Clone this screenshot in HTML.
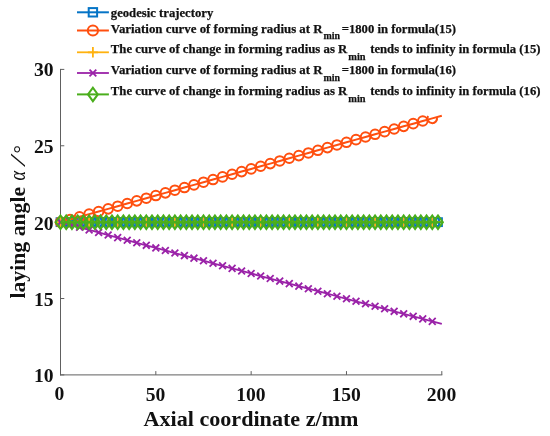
<!DOCTYPE html>
<html><head><meta charset="utf-8"><title>chart</title><style>html,body{margin:0;padding:0;background:#fff}</style></head><body>
<svg width="550" height="436" viewBox="0 0 550 436" style="display:block">
<rect width="550" height="436" fill="#fff"/>
<defs><clipPath id="cp"><rect x="52.50" y="40" width="397.30" height="340"/></clipPath></defs>
<g stroke="#606060" stroke-width="1" fill="none">
<path d="M60.50 68.90V375.40"/>
<path d="M60.00 374.90H442.30"/>
<path d="M60.50 374.90v-3.8"/>
<path d="M155.82 374.90v-3.8"/>
<path d="M251.15 374.90v-3.8"/>
<path d="M346.48 374.90v-3.8"/>
<path d="M441.80 374.90v-3.8"/>
<path d="M60.50 374.90h3.8"/>
<path d="M60.50 298.52h3.8"/>
<path d="M60.50 222.15h3.8"/>
<path d="M60.50 145.77h3.8"/>
<path d="M60.50 69.40h3.8"/>
</g>
<g clip-path="url(#cp)" fill="none" stroke-linejoin="miter">
<g stroke="#0574c6" stroke-width="2.0">
<path d="M60.50 222.15H441.80"/>
<rect x="56.60" y="218.25" width="7.8" height="7.8"/>
<rect x="59.46" y="218.25" width="7.8" height="7.8"/>
<rect x="62.32" y="218.25" width="7.8" height="7.8"/>
<rect x="65.18" y="218.25" width="7.8" height="7.8"/>
<rect x="68.04" y="218.25" width="7.8" height="7.8"/>
<rect x="70.90" y="218.25" width="7.8" height="7.8"/>
<rect x="73.76" y="218.25" width="7.8" height="7.8"/>
<rect x="76.62" y="218.25" width="7.8" height="7.8"/>
<rect x="79.48" y="218.25" width="7.8" height="7.8"/>
<rect x="82.34" y="218.25" width="7.8" height="7.8"/>
<rect x="85.20" y="218.25" width="7.8" height="7.8"/>
<rect x="88.06" y="218.25" width="7.8" height="7.8"/>
<rect x="90.92" y="218.25" width="7.8" height="7.8"/>
<rect x="93.78" y="218.25" width="7.8" height="7.8"/>
<rect x="96.64" y="218.25" width="7.8" height="7.8"/>
<rect x="99.50" y="218.25" width="7.8" height="7.8"/>
<rect x="102.36" y="218.25" width="7.8" height="7.8"/>
<rect x="105.22" y="218.25" width="7.8" height="7.8"/>
<rect x="108.08" y="218.25" width="7.8" height="7.8"/>
<rect x="110.94" y="218.25" width="7.8" height="7.8"/>
<rect x="113.79" y="218.25" width="7.8" height="7.8"/>
<rect x="116.65" y="218.25" width="7.8" height="7.8"/>
<rect x="119.51" y="218.25" width="7.8" height="7.8"/>
<rect x="122.37" y="218.25" width="7.8" height="7.8"/>
<rect x="125.23" y="218.25" width="7.8" height="7.8"/>
<rect x="128.09" y="218.25" width="7.8" height="7.8"/>
<rect x="130.95" y="218.25" width="7.8" height="7.8"/>
<rect x="133.81" y="218.25" width="7.8" height="7.8"/>
<rect x="136.67" y="218.25" width="7.8" height="7.8"/>
<rect x="139.53" y="218.25" width="7.8" height="7.8"/>
<rect x="142.39" y="218.25" width="7.8" height="7.8"/>
<rect x="145.25" y="218.25" width="7.8" height="7.8"/>
<rect x="148.11" y="218.25" width="7.8" height="7.8"/>
<rect x="150.97" y="218.25" width="7.8" height="7.8"/>
<rect x="153.83" y="218.25" width="7.8" height="7.8"/>
<rect x="156.69" y="218.25" width="7.8" height="7.8"/>
<rect x="159.55" y="218.25" width="7.8" height="7.8"/>
<rect x="162.41" y="218.25" width="7.8" height="7.8"/>
<rect x="165.27" y="218.25" width="7.8" height="7.8"/>
<rect x="168.13" y="218.25" width="7.8" height="7.8"/>
<rect x="170.99" y="218.25" width="7.8" height="7.8"/>
<rect x="173.85" y="218.25" width="7.8" height="7.8"/>
<rect x="176.71" y="218.25" width="7.8" height="7.8"/>
<rect x="179.57" y="218.25" width="7.8" height="7.8"/>
<rect x="182.43" y="218.25" width="7.8" height="7.8"/>
<rect x="185.29" y="218.25" width="7.8" height="7.8"/>
<rect x="188.15" y="218.25" width="7.8" height="7.8"/>
<rect x="191.01" y="218.25" width="7.8" height="7.8"/>
<rect x="193.87" y="218.25" width="7.8" height="7.8"/>
<rect x="196.73" y="218.25" width="7.8" height="7.8"/>
<rect x="199.59" y="218.25" width="7.8" height="7.8"/>
<rect x="202.45" y="218.25" width="7.8" height="7.8"/>
<rect x="205.31" y="218.25" width="7.8" height="7.8"/>
<rect x="208.17" y="218.25" width="7.8" height="7.8"/>
<rect x="211.03" y="218.25" width="7.8" height="7.8"/>
<rect x="213.89" y="218.25" width="7.8" height="7.8"/>
<rect x="216.75" y="218.25" width="7.8" height="7.8"/>
<rect x="219.61" y="218.25" width="7.8" height="7.8"/>
<rect x="222.47" y="218.25" width="7.8" height="7.8"/>
<rect x="225.33" y="218.25" width="7.8" height="7.8"/>
<rect x="228.19" y="218.25" width="7.8" height="7.8"/>
<rect x="231.04" y="218.25" width="7.8" height="7.8"/>
<rect x="233.90" y="218.25" width="7.8" height="7.8"/>
<rect x="236.76" y="218.25" width="7.8" height="7.8"/>
<rect x="239.62" y="218.25" width="7.8" height="7.8"/>
<rect x="242.48" y="218.25" width="7.8" height="7.8"/>
<rect x="245.34" y="218.25" width="7.8" height="7.8"/>
<rect x="248.20" y="218.25" width="7.8" height="7.8"/>
<rect x="251.06" y="218.25" width="7.8" height="7.8"/>
<rect x="253.92" y="218.25" width="7.8" height="7.8"/>
<rect x="256.78" y="218.25" width="7.8" height="7.8"/>
<rect x="259.64" y="218.25" width="7.8" height="7.8"/>
<rect x="262.50" y="218.25" width="7.8" height="7.8"/>
<rect x="265.36" y="218.25" width="7.8" height="7.8"/>
<rect x="268.22" y="218.25" width="7.8" height="7.8"/>
<rect x="271.08" y="218.25" width="7.8" height="7.8"/>
<rect x="273.94" y="218.25" width="7.8" height="7.8"/>
<rect x="276.80" y="218.25" width="7.8" height="7.8"/>
<rect x="279.66" y="218.25" width="7.8" height="7.8"/>
<rect x="282.52" y="218.25" width="7.8" height="7.8"/>
<rect x="285.38" y="218.25" width="7.8" height="7.8"/>
<rect x="288.24" y="218.25" width="7.8" height="7.8"/>
<rect x="291.10" y="218.25" width="7.8" height="7.8"/>
<rect x="293.96" y="218.25" width="7.8" height="7.8"/>
<rect x="296.82" y="218.25" width="7.8" height="7.8"/>
<rect x="299.68" y="218.25" width="7.8" height="7.8"/>
<rect x="302.54" y="218.25" width="7.8" height="7.8"/>
<rect x="305.40" y="218.25" width="7.8" height="7.8"/>
<rect x="308.26" y="218.25" width="7.8" height="7.8"/>
<rect x="311.12" y="218.25" width="7.8" height="7.8"/>
<rect x="313.98" y="218.25" width="7.8" height="7.8"/>
<rect x="316.84" y="218.25" width="7.8" height="7.8"/>
<rect x="319.70" y="218.25" width="7.8" height="7.8"/>
<rect x="322.56" y="218.25" width="7.8" height="7.8"/>
<rect x="325.42" y="218.25" width="7.8" height="7.8"/>
<rect x="328.28" y="218.25" width="7.8" height="7.8"/>
<rect x="331.14" y="218.25" width="7.8" height="7.8"/>
<rect x="334.00" y="218.25" width="7.8" height="7.8"/>
<rect x="336.86" y="218.25" width="7.8" height="7.8"/>
<rect x="339.72" y="218.25" width="7.8" height="7.8"/>
<rect x="342.58" y="218.25" width="7.8" height="7.8"/>
<rect x="345.43" y="218.25" width="7.8" height="7.8"/>
<rect x="348.29" y="218.25" width="7.8" height="7.8"/>
<rect x="351.15" y="218.25" width="7.8" height="7.8"/>
<rect x="354.01" y="218.25" width="7.8" height="7.8"/>
<rect x="356.87" y="218.25" width="7.8" height="7.8"/>
<rect x="359.73" y="218.25" width="7.8" height="7.8"/>
<rect x="362.59" y="218.25" width="7.8" height="7.8"/>
<rect x="365.45" y="218.25" width="7.8" height="7.8"/>
<rect x="368.31" y="218.25" width="7.8" height="7.8"/>
<rect x="371.17" y="218.25" width="7.8" height="7.8"/>
<rect x="374.03" y="218.25" width="7.8" height="7.8"/>
<rect x="376.89" y="218.25" width="7.8" height="7.8"/>
<rect x="379.75" y="218.25" width="7.8" height="7.8"/>
<rect x="382.61" y="218.25" width="7.8" height="7.8"/>
<rect x="385.47" y="218.25" width="7.8" height="7.8"/>
<rect x="388.33" y="218.25" width="7.8" height="7.8"/>
<rect x="391.19" y="218.25" width="7.8" height="7.8"/>
<rect x="394.05" y="218.25" width="7.8" height="7.8"/>
<rect x="396.91" y="218.25" width="7.8" height="7.8"/>
<rect x="399.77" y="218.25" width="7.8" height="7.8"/>
<rect x="402.63" y="218.25" width="7.8" height="7.8"/>
<rect x="405.49" y="218.25" width="7.8" height="7.8"/>
<rect x="408.35" y="218.25" width="7.8" height="7.8"/>
<rect x="411.21" y="218.25" width="7.8" height="7.8"/>
<rect x="414.07" y="218.25" width="7.8" height="7.8"/>
<rect x="416.93" y="218.25" width="7.8" height="7.8"/>
<rect x="419.79" y="218.25" width="7.8" height="7.8"/>
<rect x="422.65" y="218.25" width="7.8" height="7.8"/>
<rect x="425.51" y="218.25" width="7.8" height="7.8"/>
<rect x="428.37" y="218.25" width="7.8" height="7.8"/>
<rect x="431.23" y="218.25" width="7.8" height="7.8"/>
<rect x="434.09" y="218.25" width="7.8" height="7.8"/>
</g>
<g stroke="#ff4f0f" stroke-width="2.0">
<polyline points="60.50,222.15 70.03,219.49 79.56,216.83 89.10,214.16 98.63,211.50 108.16,208.84 117.69,206.18 127.23,203.52 136.76,200.86 146.29,198.19 155.82,195.53 165.36,192.87 174.89,190.21 184.42,187.55 193.96,184.89 203.49,182.22 213.02,179.56 222.55,176.90 232.09,174.24 241.62,171.58 251.15,168.92 260.68,166.25 270.22,163.59 279.75,160.93 289.28,158.27 298.81,155.61 308.35,152.95 317.88,150.28 327.41,147.62 336.94,144.96 346.48,142.30 356.01,139.64 365.54,136.98 375.07,134.31 384.61,131.65 394.14,128.99 403.67,126.33 413.20,123.67 422.74,121.01 432.27,118.34 441.80,115.68"/>
<circle cx="60.50" cy="222.15" r="4.8"/>
<circle cx="70.03" cy="219.49" r="4.8"/>
<circle cx="79.56" cy="216.83" r="4.8"/>
<circle cx="89.10" cy="214.16" r="4.8"/>
<circle cx="98.63" cy="211.50" r="4.8"/>
<circle cx="108.16" cy="208.84" r="4.8"/>
<circle cx="117.69" cy="206.18" r="4.8"/>
<circle cx="127.23" cy="203.52" r="4.8"/>
<circle cx="136.76" cy="200.86" r="4.8"/>
<circle cx="146.29" cy="198.19" r="4.8"/>
<circle cx="155.82" cy="195.53" r="4.8"/>
<circle cx="165.36" cy="192.87" r="4.8"/>
<circle cx="174.89" cy="190.21" r="4.8"/>
<circle cx="184.42" cy="187.55" r="4.8"/>
<circle cx="193.96" cy="184.89" r="4.8"/>
<circle cx="203.49" cy="182.22" r="4.8"/>
<circle cx="213.02" cy="179.56" r="4.8"/>
<circle cx="222.55" cy="176.90" r="4.8"/>
<circle cx="232.09" cy="174.24" r="4.8"/>
<circle cx="241.62" cy="171.58" r="4.8"/>
<circle cx="251.15" cy="168.92" r="4.8"/>
<circle cx="260.68" cy="166.25" r="4.8"/>
<circle cx="270.22" cy="163.59" r="4.8"/>
<circle cx="279.75" cy="160.93" r="4.8"/>
<circle cx="289.28" cy="158.27" r="4.8"/>
<circle cx="298.81" cy="155.61" r="4.8"/>
<circle cx="308.35" cy="152.95" r="4.8"/>
<circle cx="317.88" cy="150.28" r="4.8"/>
<circle cx="327.41" cy="147.62" r="4.8"/>
<circle cx="336.94" cy="144.96" r="4.8"/>
<circle cx="346.48" cy="142.30" r="4.8"/>
<circle cx="356.01" cy="139.64" r="4.8"/>
<circle cx="365.54" cy="136.98" r="4.8"/>
<circle cx="375.07" cy="134.31" r="4.8"/>
<circle cx="384.61" cy="131.65" r="4.8"/>
<circle cx="394.14" cy="128.99" r="4.8"/>
<circle cx="403.67" cy="126.33" r="4.8"/>
<circle cx="413.20" cy="123.67" r="4.8"/>
<circle cx="422.74" cy="121.01" r="4.8"/>
<path d="M428.11 115.94A4.8 4.8 0 1 0 436.90 117.10"/>
</g>
<g stroke="#ffb20f" stroke-width="1.8">
<path d="M60.50 222.15H441.80"/>
<path d="M55.50 222.15h10M60.50 217.15v10"/>
<path d="M65.03 222.15h10M70.03 217.15v10"/>
<path d="M74.56 222.15h10M79.56 217.15v10"/>
<path d="M84.10 222.15h10M89.10 217.15v10"/>
<path d="M93.63 222.15h10M98.63 217.15v10"/>
<path d="M103.16 222.15h10M108.16 217.15v10"/>
<path d="M112.69 222.15h10M117.69 217.15v10"/>
<path d="M122.23 222.15h10M127.23 217.15v10"/>
<path d="M131.76 222.15h10M136.76 217.15v10"/>
<path d="M141.29 222.15h10M146.29 217.15v10"/>
<path d="M150.82 222.15h10M155.82 217.15v10"/>
<path d="M160.36 222.15h10M165.36 217.15v10"/>
<path d="M169.89 222.15h10M174.89 217.15v10"/>
<path d="M179.42 222.15h10M184.42 217.15v10"/>
<path d="M188.96 222.15h10M193.96 217.15v10"/>
<path d="M198.49 222.15h10M203.49 217.15v10"/>
<path d="M208.02 222.15h10M213.02 217.15v10"/>
<path d="M217.55 222.15h10M222.55 217.15v10"/>
<path d="M227.09 222.15h10M232.09 217.15v10"/>
<path d="M236.62 222.15h10M241.62 217.15v10"/>
<path d="M246.15 222.15h10M251.15 217.15v10"/>
<path d="M255.68 222.15h10M260.68 217.15v10"/>
<path d="M265.22 222.15h10M270.22 217.15v10"/>
<path d="M274.75 222.15h10M279.75 217.15v10"/>
<path d="M284.28 222.15h10M289.28 217.15v10"/>
<path d="M293.81 222.15h10M298.81 217.15v10"/>
<path d="M303.35 222.15h10M308.35 217.15v10"/>
<path d="M312.88 222.15h10M317.88 217.15v10"/>
<path d="M322.41 222.15h10M327.41 217.15v10"/>
<path d="M331.94 222.15h10M336.94 217.15v10"/>
<path d="M341.48 222.15h10M346.48 217.15v10"/>
<path d="M351.01 222.15h10M356.01 217.15v10"/>
<path d="M360.54 222.15h10M365.54 217.15v10"/>
<path d="M370.07 222.15h10M375.07 217.15v10"/>
<path d="M379.61 222.15h10M384.61 217.15v10"/>
<path d="M389.14 222.15h10M394.14 217.15v10"/>
<path d="M398.67 222.15h10M403.67 217.15v10"/>
<path d="M408.20 222.15h10M413.20 217.15v10"/>
<path d="M417.74 222.15h10M422.74 217.15v10"/>
<path d="M427.27 222.15h10M432.27 217.15v10"/>
</g>
<g stroke="#9a22a8" stroke-width="1.8">
<polyline points="60.50,222.15 70.03,224.73 79.56,227.31 89.10,229.89 98.63,232.46 108.16,235.04 117.69,237.62 127.23,240.19 136.76,242.77 146.29,245.34 155.82,247.91 165.36,250.47 174.89,253.04 184.42,255.60 193.96,258.16 203.49,260.72 213.02,263.28 222.55,265.83 232.09,268.38 241.62,270.93 251.15,273.47 260.68,276.02 270.22,278.55 279.75,281.09 289.28,283.62 298.81,286.16 308.35,288.68 317.88,291.21 327.41,293.73 336.94,296.25 346.48,298.77 356.01,301.29 365.54,303.80 375.07,306.32 384.61,308.83 394.14,311.34 403.67,313.85 413.20,316.36 422.74,318.87 432.27,321.37 441.80,323.88"/>
<path d="M57.10 218.75l6.8 6.8M57.10 225.55l6.8 -6.8"/>
<path d="M66.63 221.33l6.8 6.8M66.63 228.13l6.8 -6.8"/>
<path d="M76.16 223.91l6.8 6.8M76.16 230.71l6.8 -6.8"/>
<path d="M85.70 226.49l6.8 6.8M85.70 233.29l6.8 -6.8"/>
<path d="M95.23 229.06l6.8 6.8M95.23 235.86l6.8 -6.8"/>
<path d="M104.76 231.64l6.8 6.8M104.76 238.44l6.8 -6.8"/>
<path d="M114.29 234.22l6.8 6.8M114.29 241.02l6.8 -6.8"/>
<path d="M123.83 236.79l6.8 6.8M123.83 243.59l6.8 -6.8"/>
<path d="M133.36 239.37l6.8 6.8M133.36 246.17l6.8 -6.8"/>
<path d="M142.89 241.94l6.8 6.8M142.89 248.74l6.8 -6.8"/>
<path d="M152.42 244.51l6.8 6.8M152.42 251.31l6.8 -6.8"/>
<path d="M161.96 247.07l6.8 6.8M161.96 253.87l6.8 -6.8"/>
<path d="M171.49 249.64l6.8 6.8M171.49 256.44l6.8 -6.8"/>
<path d="M181.02 252.20l6.8 6.8M181.02 259.00l6.8 -6.8"/>
<path d="M190.56 254.76l6.8 6.8M190.56 261.56l6.8 -6.8"/>
<path d="M200.09 257.32l6.8 6.8M200.09 264.12l6.8 -6.8"/>
<path d="M209.62 259.88l6.8 6.8M209.62 266.68l6.8 -6.8"/>
<path d="M219.15 262.43l6.8 6.8M219.15 269.23l6.8 -6.8"/>
<path d="M228.69 264.98l6.8 6.8M228.69 271.78l6.8 -6.8"/>
<path d="M238.22 267.53l6.8 6.8M238.22 274.33l6.8 -6.8"/>
<path d="M247.75 270.07l6.8 6.8M247.75 276.87l6.8 -6.8"/>
<path d="M257.28 272.62l6.8 6.8M257.28 279.42l6.8 -6.8"/>
<path d="M266.82 275.15l6.8 6.8M266.82 281.95l6.8 -6.8"/>
<path d="M276.35 277.69l6.8 6.8M276.35 284.49l6.8 -6.8"/>
<path d="M285.88 280.22l6.8 6.8M285.88 287.02l6.8 -6.8"/>
<path d="M295.41 282.76l6.8 6.8M295.41 289.56l6.8 -6.8"/>
<path d="M304.95 285.28l6.8 6.8M304.95 292.08l6.8 -6.8"/>
<path d="M314.48 287.81l6.8 6.8M314.48 294.61l6.8 -6.8"/>
<path d="M324.01 290.33l6.8 6.8M324.01 297.13l6.8 -6.8"/>
<path d="M333.54 292.85l6.8 6.8M333.54 299.65l6.8 -6.8"/>
<path d="M343.08 295.37l6.8 6.8M343.08 302.17l6.8 -6.8"/>
<path d="M352.61 297.89l6.8 6.8M352.61 304.69l6.8 -6.8"/>
<path d="M362.14 300.40l6.8 6.8M362.14 307.20l6.8 -6.8"/>
<path d="M371.67 302.92l6.8 6.8M371.67 309.72l6.8 -6.8"/>
<path d="M381.21 305.43l6.8 6.8M381.21 312.23l6.8 -6.8"/>
<path d="M390.74 307.94l6.8 6.8M390.74 314.74l6.8 -6.8"/>
<path d="M400.27 310.45l6.8 6.8M400.27 317.25l6.8 -6.8"/>
<path d="M409.80 312.96l6.8 6.8M409.80 319.76l6.8 -6.8"/>
<path d="M419.34 315.47l6.8 6.8M419.34 322.27l6.8 -6.8"/>
<path d="M428.87 317.97l6.8 6.8M428.87 324.77l6.8 -6.8"/>
</g>
<g stroke="#4aae1c" stroke-width="2.0">
<path d="M60.50 222.15H441.80"/>
<path d="M55.60 222.15L60.50 215.35L65.40 222.15L60.50 228.95Z"/>
<path d="M61.32 222.15L66.22 215.35L71.12 222.15L66.22 228.95Z"/>
<path d="M67.04 222.15L71.94 215.35L76.84 222.15L71.94 228.95Z"/>
<path d="M72.76 222.15L77.66 215.35L82.56 222.15L77.66 228.95Z"/>
<path d="M78.48 222.15L83.38 215.35L88.28 222.15L83.38 228.95Z"/>
<path d="M84.20 222.15L89.10 215.35L94.00 222.15L89.10 228.95Z"/>
<path d="M89.92 222.15L94.82 215.35L99.72 222.15L94.82 228.95Z"/>
<path d="M95.64 222.15L100.54 215.35L105.44 222.15L100.54 228.95Z"/>
<path d="M101.36 222.15L106.26 215.35L111.16 222.15L106.26 228.95Z"/>
<path d="M107.08 222.15L111.98 215.35L116.88 222.15L111.98 228.95Z"/>
<path d="M112.79 222.15L117.69 215.35L122.59 222.15L117.69 228.95Z"/>
<path d="M118.51 222.15L123.41 215.35L128.31 222.15L123.41 228.95Z"/>
<path d="M124.23 222.15L129.13 215.35L134.03 222.15L129.13 228.95Z"/>
<path d="M129.95 222.15L134.85 215.35L139.75 222.15L134.85 228.95Z"/>
<path d="M135.67 222.15L140.57 215.35L145.47 222.15L140.57 228.95Z"/>
<path d="M141.39 222.15L146.29 215.35L151.19 222.15L146.29 228.95Z"/>
<path d="M147.11 222.15L152.01 215.35L156.91 222.15L152.01 228.95Z"/>
<path d="M152.83 222.15L157.73 215.35L162.63 222.15L157.73 228.95Z"/>
<path d="M158.55 222.15L163.45 215.35L168.35 222.15L163.45 228.95Z"/>
<path d="M164.27 222.15L169.17 215.35L174.07 222.15L169.17 228.95Z"/>
<path d="M169.99 222.15L174.89 215.35L179.79 222.15L174.89 228.95Z"/>
<path d="M175.71 222.15L180.61 215.35L185.51 222.15L180.61 228.95Z"/>
<path d="M181.43 222.15L186.33 215.35L191.23 222.15L186.33 228.95Z"/>
<path d="M187.15 222.15L192.05 215.35L196.95 222.15L192.05 228.95Z"/>
<path d="M192.87 222.15L197.77 215.35L202.67 222.15L197.77 228.95Z"/>
<path d="M198.59 222.15L203.49 215.35L208.39 222.15L203.49 228.95Z"/>
<path d="M204.31 222.15L209.21 215.35L214.11 222.15L209.21 228.95Z"/>
<path d="M210.03 222.15L214.93 215.35L219.83 222.15L214.93 228.95Z"/>
<path d="M215.75 222.15L220.65 215.35L225.55 222.15L220.65 228.95Z"/>
<path d="M221.47 222.15L226.37 215.35L231.27 222.15L226.37 228.95Z"/>
<path d="M227.19 222.15L232.09 215.35L236.99 222.15L232.09 228.95Z"/>
<path d="M232.90 222.15L237.80 215.35L242.70 222.15L237.80 228.95Z"/>
<path d="M238.62 222.15L243.52 215.35L248.42 222.15L243.52 228.95Z"/>
<path d="M244.34 222.15L249.24 215.35L254.14 222.15L249.24 228.95Z"/>
<path d="M250.06 222.15L254.96 215.35L259.86 222.15L254.96 228.95Z"/>
<path d="M255.78 222.15L260.68 215.35L265.58 222.15L260.68 228.95Z"/>
<path d="M261.50 222.15L266.40 215.35L271.30 222.15L266.40 228.95Z"/>
<path d="M267.22 222.15L272.12 215.35L277.02 222.15L272.12 228.95Z"/>
<path d="M272.94 222.15L277.84 215.35L282.74 222.15L277.84 228.95Z"/>
<path d="M278.66 222.15L283.56 215.35L288.46 222.15L283.56 228.95Z"/>
<path d="M284.38 222.15L289.28 215.35L294.18 222.15L289.28 228.95Z"/>
<path d="M290.10 222.15L295.00 215.35L299.90 222.15L295.00 228.95Z"/>
<path d="M295.82 222.15L300.72 215.35L305.62 222.15L300.72 228.95Z"/>
<path d="M301.54 222.15L306.44 215.35L311.34 222.15L306.44 228.95Z"/>
<path d="M307.26 222.15L312.16 215.35L317.06 222.15L312.16 228.95Z"/>
<path d="M312.98 222.15L317.88 215.35L322.78 222.15L317.88 228.95Z"/>
<path d="M318.70 222.15L323.60 215.35L328.50 222.15L323.60 228.95Z"/>
<path d="M324.42 222.15L329.32 215.35L334.22 222.15L329.32 228.95Z"/>
<path d="M330.14 222.15L335.04 215.35L339.94 222.15L335.04 228.95Z"/>
<path d="M335.86 222.15L340.76 215.35L345.66 222.15L340.76 228.95Z"/>
<path d="M341.58 222.15L346.48 215.35L351.38 222.15L346.48 228.95Z"/>
<path d="M347.29 222.15L352.19 215.35L357.09 222.15L352.19 228.95Z"/>
<path d="M353.01 222.15L357.91 215.35L362.81 222.15L357.91 228.95Z"/>
<path d="M358.73 222.15L363.63 215.35L368.53 222.15L363.63 228.95Z"/>
<path d="M364.45 222.15L369.35 215.35L374.25 222.15L369.35 228.95Z"/>
<path d="M370.17 222.15L375.07 215.35L379.97 222.15L375.07 228.95Z"/>
<path d="M375.89 222.15L380.79 215.35L385.69 222.15L380.79 228.95Z"/>
<path d="M381.61 222.15L386.51 215.35L391.41 222.15L386.51 228.95Z"/>
<path d="M387.33 222.15L392.23 215.35L397.13 222.15L392.23 228.95Z"/>
<path d="M393.05 222.15L397.95 215.35L402.85 222.15L397.95 228.95Z"/>
<path d="M398.77 222.15L403.67 215.35L408.57 222.15L403.67 228.95Z"/>
<path d="M404.49 222.15L409.39 215.35L414.29 222.15L409.39 228.95Z"/>
<path d="M410.21 222.15L415.11 215.35L420.01 222.15L415.11 228.95Z"/>
<path d="M415.93 222.15L420.83 215.35L425.73 222.15L420.83 228.95Z"/>
<path d="M421.65 222.15L426.55 215.35L431.45 222.15L426.55 228.95Z"/>
<path d="M427.37 222.15L432.27 215.35L437.17 222.15L432.27 228.95Z"/>
<path d="M433.09 222.15L437.99 215.35L442.89 222.15L437.99 228.95Z"/>
</g>
</g>
<g font-family="Liberation Serif, serif" font-weight="bold" font-size="19.6" fill="#111" text-anchor="middle">
<text x="59.30" y="400.3">0</text>
<text x="155.52" y="400.7">50</text>
<text x="250.85" y="400.7">100</text>
<text x="346.18" y="400.7">150</text>
<text x="441.50" y="400.7">200</text>
</g>
<g font-family="Liberation Serif, serif" font-weight="bold" font-size="19.6" fill="#111" text-anchor="end">
<text x="53.6" y="382.40">10</text>
<text x="53.6" y="306.12">15</text>
<text x="53.6" y="230.05">20</text>
<text x="53.6" y="153.47">25</text>
<text x="53.6" y="75.80">30</text>
</g>
<text font-family="Liberation Serif, serif" font-weight="bold" font-size="20.5" fill="#111" x="143.5" y="425.5" textLength="215" lengthAdjust="spacingAndGlyphs">Axial coordinate z/mm</text>
<g transform="translate(25.3 298.6) rotate(-90)" font-family="Liberation Serif, serif" font-weight="bold" fill="#111">
<text font-size="20.3" x="0" y="0" textLength="111.8" lengthAdjust="spacingAndGlyphs">laying angle</text>
<text font-size="23" font-weight="normal" font-style="italic" x="118.0" y="0" textLength="9.6" lengthAdjust="spacingAndGlyphs">α</text>
<text font-size="21" font-weight="normal" font-style="italic" x="133.2" y="0" textLength="9.4" lengthAdjust="spacingAndGlyphs">/</text>
<text font-size="21" font-weight="normal" x="145.0" y="3.1">°</text>
</g>
<g fill="none">
<g stroke="#0574c6" stroke-width="2.0">
<path d="M77.0 12.3H108.9"/>
<rect x="88.70" y="8.10" width="8.4" height="8.4"/>
</g>
<g stroke="#ff4f0f" stroke-width="2.0">
<path d="M77.0 30.5H108.9"/>
<circle cx="92.9" cy="30.5" r="5.1"/>
</g>
<g stroke="#ffb20f" stroke-width="1.8">
<path d="M77.0 52.3H108.9"/>
<path d="M87.9 52.3h10M92.9 47.099999999999994v10.4"/>
</g>
<g stroke="#9a22a8" stroke-width="1.8">
<path d="M77.0 73.0H108.9"/>
<path d="M89.5 69.6l6.8 6.8M89.5 76.4l6.8 -6.8"/>
</g>
<g stroke="#4aae1c" stroke-width="2.0">
<path d="M77.0 94.4H108.9"/>
<path d="M88.0 94.4L92.9 87.60000000000001L97.80000000000001 94.4L92.9 101.2Z"/>
</g>
</g>
<g font-family="Liberation Serif, serif" font-weight="bold" font-size="13.4" fill="#111" stroke="#111" stroke-width="0.25">
<text x="110.8" y="16.5" textLength="102.5" lengthAdjust="spacingAndGlyphs">geodesic trajectory</text>
<text x="110.8" y="32.5" textLength="211.8" lengthAdjust="spacingAndGlyphs">Variation curve of forming radius at R</text>
<text x="323.6" y="39.4" font-size="10.8" textLength="16.5" lengthAdjust="spacingAndGlyphs">min</text>
<text x="341.7" y="32.5" textLength="114.3" lengthAdjust="spacingAndGlyphs">=1800 in formula(15)</text>
<text x="110.8" y="52.6" textLength="236.5" lengthAdjust="spacingAndGlyphs">The curve of change in forming radius as R</text>
<text x="348.3" y="59.5" font-size="10.8" textLength="17.3" lengthAdjust="spacingAndGlyphs">min</text>
<text x="370.2" y="52.6" textLength="170.3" lengthAdjust="spacingAndGlyphs">tends to infinity in formula (15)</text>
<text x="110.8" y="73.8" textLength="211.8" lengthAdjust="spacingAndGlyphs">Variation curve of forming radius at R</text>
<text x="323.6" y="80.7" font-size="10.8" textLength="16.5" lengthAdjust="spacingAndGlyphs">min</text>
<text x="341.7" y="73.8" textLength="114.3" lengthAdjust="spacingAndGlyphs">=1800 in formula(16)</text>
<text x="110.8" y="95.4" textLength="236.5" lengthAdjust="spacingAndGlyphs">The curve of change in forming radius as R</text>
<text x="348.3" y="102.3" font-size="10.8" textLength="17.3" lengthAdjust="spacingAndGlyphs">min</text>
<text x="370.2" y="95.4" textLength="170.3" lengthAdjust="spacingAndGlyphs">tends to infinity in formula (16)</text>
</g>
</svg>
</body></html>
